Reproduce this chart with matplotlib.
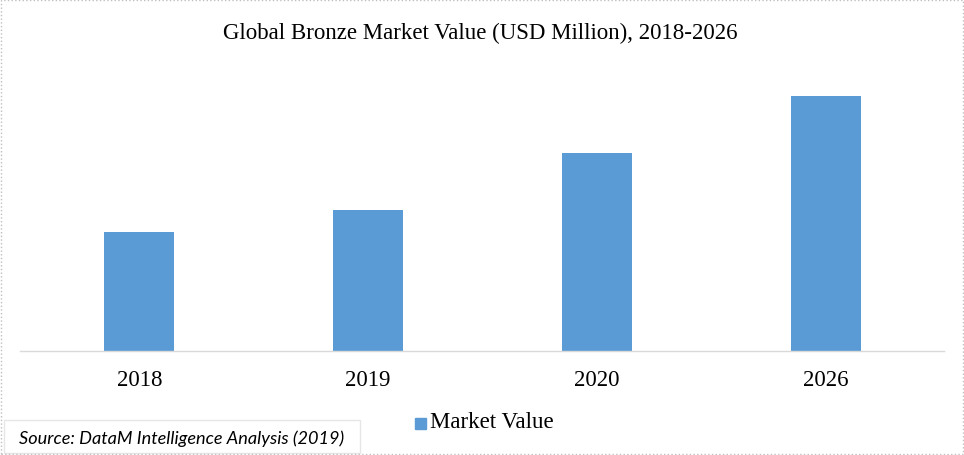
import matplotlib.pyplot as plt
from matplotlib.patches import Rectangle
from matplotlib.lines import Line2D

# Dados (altura relativa das barras)
anos = ['2018', '2019', '2020', '2026']
valores = [119, 141, 198, 255]
serie = 'Market Value'
titulo = 'Global Bronze Market Value (USD Million), 2018-2026'
fonte = 'Source: DataM Intelligence Analysis (2019)'

cor = '#5B9BD5'
W, H = 964, 456

fig = plt.figure(figsize=(W / 100, H / 100), dpi=100)
ax = fig.add_axes([25 / W, (H - 352) / H, 915 / W, (352 - 60) / H])

ax.bar(range(len(anos)), valores, width=0.306, color=cor, label=serie)
ax.set_xlim(-0.5, len(anos) - 0.5)
ax.set_ylim(0, 292)
ax.set_xticks(range(len(anos)))
ax.set_xticklabels(anos, fontfamily='Liberation Serif', fontsize=16.5)
ax.tick_params(axis='x', length=0, pad=13)
ax.set_yticks([])
for lado in ['top', 'left', 'right', 'bottom']:
    ax.spines[lado].set_visible(False)

# linha de base
fig.add_artist(Line2D([20 / W, 944 / W], [1 - 352 / H, 1 - 352 / H],
                      color='#D9D9D9', lw=1))

fig.text(0.5 - 2 / W, 1 - 33 / H, titulo, ha='center', va='center',
         fontfamily='Liberation Serif', fontsize=16.5)

# legenda manual
fig.patches.append(Rectangle((415 / W, 1 - 430 / H), 11 / W, 11 / H,
                             transform=fig.transFigure, color=cor))
fig.text(430 / W, 1 - 423 / H, serie, ha='left', va='center',
         fontfamily='Liberation Serif', fontsize=16.5)

# caixa da fonte
fig.patches.append(Rectangle((4 / W, 1 - 454 / H), 356 / W, 33 / H,
                             transform=fig.transFigure, facecolor='white',
                             edgecolor='#E6E6E6', lw=1))
fig.text(19 / W, 1 - 439 / H, fonte, ha='left', va='center',
         fontfamily='Lato', style='italic', fontsize=13.1)

# borda da figura
fig.patches.append(Rectangle((1 / W, 1 / H), (W - 2) / W, (H - 2) / H,
                             transform=fig.transFigure, fill=False,
                             edgecolor='#BFBFBF', lw=1, ls=':'))

fig.savefig('out.png', dpi=100)
